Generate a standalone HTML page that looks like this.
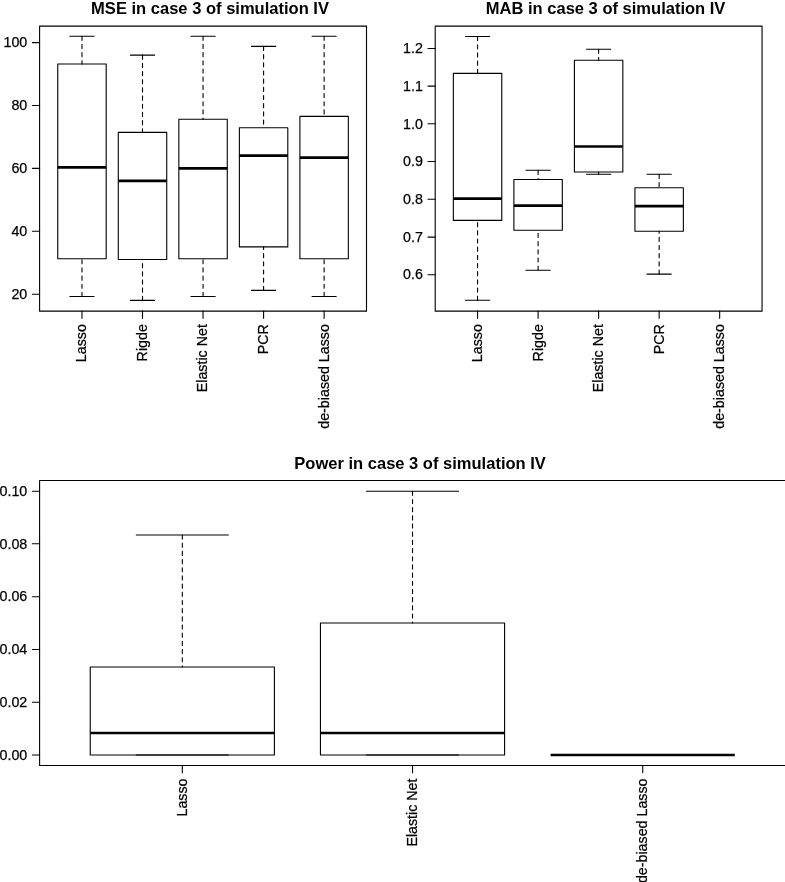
<!DOCTYPE html>
<html><head><meta charset="utf-8"><title>Boxplots: case 3 of simulation IV</title>
<style>
html,body{margin:0;padding:0;background:#fff;}
svg{display:block;}
line,rect{stroke:#000;stroke-linecap:round;stroke-linejoin:round;}
.d{stroke-dasharray:4.09 4.09;stroke-linecap:round;}
.m{stroke:#000;stroke-linecap:butt;}
text{font-family:"Liberation Sans",Arial,Helvetica,sans-serif;fill:#000;}
.t{font-size:14.25px;stroke:#000;stroke-width:0.25px;}
.h{font-size:16.5px;font-weight:bold;}
</style></head>
<body>
<svg width="785" height="882" viewBox="0 0 785 882">
<rect x="0" y="0" width="785" height="882" fill="#fff" style="stroke:none"/>
<rect x="39.60" y="26.10" width="326.90" height="285.05" fill="none" stroke-width="1.1"/>
<line x1="32.40" y1="42.60" x2="39.60" y2="42.60" stroke-width="1.1" />
<text class="t" x="27.30" y="47.35" text-anchor="end">100</text>
<line x1="32.40" y1="105.50" x2="39.60" y2="105.50" stroke-width="1.1" />
<text class="t" x="27.30" y="110.25" text-anchor="end">80</text>
<line x1="32.40" y1="168.40" x2="39.60" y2="168.40" stroke-width="1.1" />
<text class="t" x="27.30" y="173.15" text-anchor="end">60</text>
<line x1="32.40" y1="231.30" x2="39.60" y2="231.30" stroke-width="1.1" />
<text class="t" x="27.30" y="236.05" text-anchor="end">40</text>
<line x1="32.40" y1="294.20" x2="39.60" y2="294.20" stroke-width="1.1" />
<text class="t" x="27.30" y="298.95" text-anchor="end">20</text>
<line x1="81.98" y1="36.24" x2="81.98" y2="63.96" stroke-width="1.1" class="d"/>
<line x1="81.98" y1="296.50" x2="81.98" y2="258.80" stroke-width="1.1" class="d"/>
<line x1="69.87" y1="36.24" x2="94.08" y2="36.24" stroke-width="1.1" />
<line x1="69.87" y1="296.50" x2="94.08" y2="296.50" stroke-width="1.1" />
<rect x="57.76" y="63.96" width="48.43" height="194.84" fill="none" stroke-width="1.1"/>
<line x1="57.76" y1="167.40" x2="106.19" y2="167.40" stroke-width="2.7" class="m"/>
<line x1="81.98" y1="311.15" x2="81.98" y2="318.35" stroke-width="1.1" />
<text class="t" transform="translate(86.38 324.15) rotate(-90)" text-anchor="end">Lasso</text>
<line x1="142.51" y1="55.15" x2="142.51" y2="132.40" stroke-width="1.1" class="d"/>
<line x1="142.51" y1="300.40" x2="142.51" y2="259.50" stroke-width="1.1" class="d"/>
<line x1="130.41" y1="55.15" x2="154.62" y2="55.15" stroke-width="1.1" />
<line x1="130.41" y1="300.40" x2="154.62" y2="300.40" stroke-width="1.1" />
<rect x="118.30" y="132.40" width="48.43" height="127.10" fill="none" stroke-width="1.1"/>
<line x1="118.30" y1="180.90" x2="166.73" y2="180.90" stroke-width="2.7" class="m"/>
<line x1="142.51" y1="311.15" x2="142.51" y2="318.35" stroke-width="1.1" />
<text class="t" transform="translate(146.91 324.15) rotate(-90)" text-anchor="end">Rigde</text>
<line x1="203.05" y1="36.24" x2="203.05" y2="119.20" stroke-width="1.1" class="d"/>
<line x1="203.05" y1="296.50" x2="203.05" y2="258.80" stroke-width="1.1" class="d"/>
<line x1="190.94" y1="36.24" x2="215.16" y2="36.24" stroke-width="1.1" />
<line x1="190.94" y1="296.50" x2="215.16" y2="296.50" stroke-width="1.1" />
<rect x="178.84" y="119.20" width="48.43" height="139.60" fill="none" stroke-width="1.1"/>
<line x1="178.84" y1="168.30" x2="227.26" y2="168.30" stroke-width="2.7" class="m"/>
<line x1="203.05" y1="311.15" x2="203.05" y2="318.35" stroke-width="1.1" />
<text class="t" transform="translate(207.45 324.15) rotate(-90)" text-anchor="end">Elastic Net</text>
<line x1="263.59" y1="46.40" x2="263.59" y2="127.80" stroke-width="1.1" class="d"/>
<line x1="263.59" y1="290.40" x2="263.59" y2="246.90" stroke-width="1.1" class="d"/>
<line x1="251.48" y1="46.40" x2="275.69" y2="46.40" stroke-width="1.1" />
<line x1="251.48" y1="290.40" x2="275.69" y2="290.40" stroke-width="1.1" />
<rect x="239.37" y="127.80" width="48.43" height="119.10" fill="none" stroke-width="1.1"/>
<line x1="239.37" y1="155.60" x2="287.80" y2="155.60" stroke-width="2.7" class="m"/>
<line x1="263.59" y1="311.15" x2="263.59" y2="318.35" stroke-width="1.1" />
<text class="t" transform="translate(267.99 324.15) rotate(-90)" text-anchor="end">PCR</text>
<line x1="324.12" y1="36.24" x2="324.12" y2="116.40" stroke-width="1.1" class="d"/>
<line x1="324.12" y1="296.50" x2="324.12" y2="258.80" stroke-width="1.1" class="d"/>
<line x1="312.02" y1="36.24" x2="336.23" y2="36.24" stroke-width="1.1" />
<line x1="312.02" y1="296.50" x2="336.23" y2="296.50" stroke-width="1.1" />
<rect x="299.91" y="116.40" width="48.43" height="142.40" fill="none" stroke-width="1.1"/>
<line x1="299.91" y1="157.70" x2="348.34" y2="157.70" stroke-width="2.7" class="m"/>
<line x1="324.12" y1="311.15" x2="324.12" y2="318.35" stroke-width="1.1" />
<text class="t" transform="translate(328.52 324.15) rotate(-90)" text-anchor="end">de-biased Lasso</text>
<text class="h" x="91.10" y="13.95" textLength="237.9" lengthAdjust="spacingAndGlyphs">MSE in case 3 of simulation IV</text>
<rect x="435.20" y="26.10" width="326.85" height="285.05" fill="none" stroke-width="1.1"/>
<line x1="428.00" y1="48.45" x2="435.20" y2="48.45" stroke-width="1.1" />
<text class="t" x="422.90" y="53.20" text-anchor="end">1.2</text>
<line x1="428.00" y1="86.10" x2="435.20" y2="86.10" stroke-width="1.1" />
<text class="t" x="422.90" y="90.85" text-anchor="end">1.1</text>
<line x1="428.00" y1="123.80" x2="435.20" y2="123.80" stroke-width="1.1" />
<text class="t" x="422.90" y="128.55" text-anchor="end">1.0</text>
<line x1="428.00" y1="161.50" x2="435.20" y2="161.50" stroke-width="1.1" />
<text class="t" x="422.90" y="166.25" text-anchor="end">0.9</text>
<line x1="428.00" y1="199.30" x2="435.20" y2="199.30" stroke-width="1.1" />
<text class="t" x="422.90" y="204.05" text-anchor="end">0.8</text>
<line x1="428.00" y1="237.15" x2="435.20" y2="237.15" stroke-width="1.1" />
<text class="t" x="422.90" y="241.90" text-anchor="end">0.7</text>
<line x1="428.00" y1="274.70" x2="435.20" y2="274.70" stroke-width="1.1" />
<text class="t" x="422.90" y="279.45" text-anchor="end">0.6</text>
<line x1="477.57" y1="36.50" x2="477.57" y2="73.40" stroke-width="1.1" class="d"/>
<line x1="477.57" y1="300.30" x2="477.57" y2="220.40" stroke-width="1.1" class="d"/>
<line x1="465.46" y1="36.50" x2="489.67" y2="36.50" stroke-width="1.1" />
<line x1="465.46" y1="300.30" x2="489.67" y2="300.30" stroke-width="1.1" />
<rect x="453.36" y="73.40" width="48.42" height="147.00" fill="none" stroke-width="1.1"/>
<line x1="453.36" y1="198.70" x2="501.78" y2="198.70" stroke-width="2.7" class="m"/>
<line x1="477.57" y1="311.15" x2="477.57" y2="318.35" stroke-width="1.1" />
<text class="t" transform="translate(481.97 324.15) rotate(-90)" text-anchor="end">Lasso</text>
<line x1="538.10" y1="170.30" x2="538.10" y2="179.50" stroke-width="1.1" class="d"/>
<line x1="538.10" y1="270.20" x2="538.10" y2="230.30" stroke-width="1.1" class="d"/>
<line x1="525.99" y1="170.30" x2="550.20" y2="170.30" stroke-width="1.1" />
<line x1="525.99" y1="270.20" x2="550.20" y2="270.20" stroke-width="1.1" />
<rect x="513.89" y="179.50" width="48.42" height="50.80" fill="none" stroke-width="1.1"/>
<line x1="513.89" y1="205.70" x2="562.31" y2="205.70" stroke-width="2.7" class="m"/>
<line x1="538.10" y1="311.15" x2="538.10" y2="318.35" stroke-width="1.1" />
<text class="t" transform="translate(542.50 324.15) rotate(-90)" text-anchor="end">Rigde</text>
<line x1="598.62" y1="49.20" x2="598.62" y2="60.30" stroke-width="1.1" class="d"/>
<line x1="598.62" y1="174.30" x2="598.62" y2="172.00" stroke-width="1.1" class="d"/>
<line x1="586.52" y1="49.20" x2="610.73" y2="49.20" stroke-width="1.1" />
<line x1="586.52" y1="174.30" x2="610.73" y2="174.30" stroke-width="1.1" />
<rect x="574.41" y="60.30" width="48.42" height="111.70" fill="none" stroke-width="1.1"/>
<line x1="574.41" y1="146.50" x2="622.84" y2="146.50" stroke-width="2.7" class="m"/>
<line x1="598.62" y1="311.15" x2="598.62" y2="318.35" stroke-width="1.1" />
<text class="t" transform="translate(603.02 324.15) rotate(-90)" text-anchor="end">Elastic Net</text>
<line x1="659.15" y1="174.30" x2="659.15" y2="187.70" stroke-width="1.1" class="d"/>
<line x1="659.15" y1="274.10" x2="659.15" y2="231.20" stroke-width="1.1" class="d"/>
<line x1="647.05" y1="174.30" x2="671.26" y2="174.30" stroke-width="1.1" />
<line x1="647.05" y1="274.10" x2="671.26" y2="274.10" stroke-width="1.1" />
<rect x="634.94" y="187.70" width="48.42" height="43.50" fill="none" stroke-width="1.1"/>
<line x1="634.94" y1="206.10" x2="683.36" y2="206.10" stroke-width="2.7" class="m"/>
<line x1="659.15" y1="311.15" x2="659.15" y2="318.35" stroke-width="1.1" />
<text class="t" transform="translate(663.55 324.15) rotate(-90)" text-anchor="end">PCR</text>
<line x1="719.68" y1="311.15" x2="719.68" y2="318.35" stroke-width="1.1" />
<text class="t" transform="translate(724.08 324.15) rotate(-90)" text-anchor="end">de-biased Lasso</text>
<text class="h" x="485.80" y="13.95" textLength="239.6" lengthAdjust="spacingAndGlyphs">MAB in case 3 of simulation IV</text>
<rect x="39.60" y="480.45" width="746.00" height="285.05" fill="none" stroke-width="1.1"/>
<line x1="32.40" y1="491.25" x2="39.60" y2="491.25" stroke-width="1.1" />
<text class="t" x="27.30" y="496.00" text-anchor="end">0.10</text>
<line x1="32.40" y1="543.80" x2="39.60" y2="543.80" stroke-width="1.1" />
<text class="t" x="27.30" y="548.55" text-anchor="end">0.08</text>
<line x1="32.40" y1="596.70" x2="39.60" y2="596.70" stroke-width="1.1" />
<text class="t" x="27.30" y="601.45" text-anchor="end">0.06</text>
<line x1="32.40" y1="649.50" x2="39.60" y2="649.50" stroke-width="1.1" />
<text class="t" x="27.30" y="654.25" text-anchor="end">0.04</text>
<line x1="32.40" y1="702.20" x2="39.60" y2="702.20" stroke-width="1.1" />
<text class="t" x="27.30" y="706.95" text-anchor="end">0.02</text>
<line x1="32.40" y1="755.00" x2="39.60" y2="755.00" stroke-width="1.1" />
<text class="t" x="27.30" y="759.75" text-anchor="end">0.00</text>
<line x1="182.32" y1="535.00" x2="182.32" y2="667.00" stroke-width="1.1" class="d"/>
<line x1="136.28" y1="535.00" x2="228.36" y2="535.00" stroke-width="1.1" />
<line x1="136.28" y1="755.00" x2="228.36" y2="755.00" stroke-width="1.1" />
<rect x="90.24" y="667.00" width="184.16" height="88.00" fill="none" stroke-width="1.1"/>
<line x1="90.24" y1="733.00" x2="274.40" y2="733.00" stroke-width="2.7" class="m"/>
<line x1="182.32" y1="765.50" x2="182.32" y2="772.70" stroke-width="1.1" />
<text class="t" transform="translate(186.72 778.50) rotate(-90)" text-anchor="end">Lasso</text>
<line x1="412.52" y1="491.25" x2="412.52" y2="623.05" stroke-width="1.1" class="d"/>
<line x1="366.48" y1="491.25" x2="458.56" y2="491.25" stroke-width="1.1" />
<line x1="366.48" y1="755.00" x2="458.56" y2="755.00" stroke-width="1.1" />
<rect x="320.44" y="623.05" width="184.16" height="131.95" fill="none" stroke-width="1.1"/>
<line x1="320.44" y1="733.00" x2="504.60" y2="733.00" stroke-width="2.7" class="m"/>
<line x1="412.52" y1="765.50" x2="412.52" y2="772.70" stroke-width="1.1" />
<text class="t" transform="translate(416.92 778.50) rotate(-90)" text-anchor="end">Elastic Net</text>
<line x1="596.68" y1="755.00" x2="688.76" y2="755.00" stroke-width="1.1" />
<line x1="596.68" y1="755.00" x2="688.76" y2="755.00" stroke-width="1.1" />
<rect x="550.64" y="755.00" width="184.16" height="0.00" fill="none" stroke-width="1.1"/>
<line x1="550.64" y1="755.00" x2="734.80" y2="755.00" stroke-width="2.7" class="m"/>
<line x1="642.72" y1="765.50" x2="642.72" y2="772.70" stroke-width="1.1" />
<text class="t" transform="translate(647.12 778.50) rotate(-90)" text-anchor="end">de-biased Lasso</text>
<text class="h" x="294.30" y="468.90" textLength="251.6" lengthAdjust="spacingAndGlyphs">Power in case 3 of simulation IV</text>
</svg>
</body></html>
